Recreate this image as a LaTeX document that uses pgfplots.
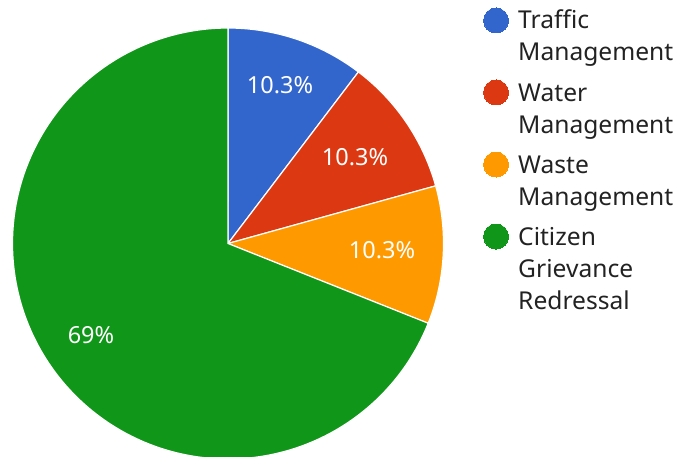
\documentclass[border=0pt]{standalone}
\usepackage{pgfplots}
\usepackage{pgfplotstable}
\usepackage{fontspec}
\setmainfont{Noto Sans}
\pgfplotsset{compat=1.18}
\definecolor{cA}{HTML}{3366CC}
\definecolor{cB}{HTML}{DC3912}
\definecolor{cC}{HTML}{FF9900}
\definecolor{cD}{HTML}{109618}
\definecolor{txt}{HTML}{222222}
\pgfplotstableread{
label value
Traffic 3
Water 3
Waste 3
Citizen 20
}\piedata
\pgfplotstablegetelem{0}{value}\of\piedata\let\vA\pgfplotsretval
\pgfplotstablegetelem{1}{value}\of\piedata\let\vB\pgfplotsretval
\pgfplotstablegetelem{2}{value}\of\piedata\let\vC\pgfplotsretval
\pgfplotstablegetelem{3}{value}\of\piedata\let\vD\pgfplotsretval
\pgfmathsetmacro\tot{\vA+\vB+\vC+\vD}
\pgfmathsetmacro\aA{360*\vA/\tot}
\pgfmathsetmacro\aB{360*(\vA+\vB)/\tot}
\pgfmathsetmacro\aC{360*(\vA+\vB+\vC)/\tot}
\def\pcx{228}\def\pcy{243.5}\def\prad{215.5}
\begin{document}%
\begin{tikzpicture}
\begin{axis}[
  width=675bp, height=457bp, scale only axis,
  xmin=0, xmax=675, ymin=0, ymax=457, y dir=reverse,
  hide axis, clip=true,
]
\coordinate (bbA) at (axis cs:0,457);
\coordinate (bbB) at (axis cs:675,0);
\addplot[fill=cA, draw=white, line width=1.2pt, domain=0:\aA, samples=60, variable=\t]
  ({\pcx+\prad*sin(\t)},{\pcy-\prad*cos(\t)}) -- (axis cs:\pcx,\pcy) -- cycle;
\addplot[fill=cB, draw=white, line width=1.2pt, domain=\aA:\aB, samples=60, variable=\t]
  ({\pcx+\prad*sin(\t)},{\pcy-\prad*cos(\t)}) -- (axis cs:\pcx,\pcy) -- cycle;
\addplot[fill=cC, draw=white, line width=1.2pt, domain=\aB:\aC, samples=60, variable=\t]
  ({\pcx+\prad*sin(\t)},{\pcy-\prad*cos(\t)}) -- (axis cs:\pcx,\pcy) -- cycle;
\addplot[fill=cD, draw=white, line width=1.2pt, domain=\aC:360, samples=200, variable=\t]
  ({\pcx+\prad*sin(\t)},{\pcy-\prad*cos(\t)}) -- (axis cs:\pcx,\pcy) -- cycle;
% slice labels
\begin{scope}[every node/.style={text=white, font=\fontsize{23.5bp}{28bp}\selectfont, inner sep=0pt}]
\node at (axis cs:280,85) {10.3\%};
\node at (axis cs:355,157) {10.3\%};
\node at (axis cs:382,250) {10.3\%};
\node at (axis cs:91,335) {69\%};
\end{scope}
% legend markers
\addplot[cA, only marks, mark=*, mark size=12.5bp, mark options={fill=cA, draw=cA, line width=0pt}] coordinates {(496,20.5)};
\addplot[cB, only marks, mark=*, mark size=12.5bp, mark options={fill=cB, draw=cB, line width=0pt}] coordinates {(496,92.5)};
\addplot[cC, only marks, mark=*, mark size=12.5bp, mark options={fill=cC, draw=cC, line width=0pt}] coordinates {(496,164.5)};
\addplot[cD, only marks, mark=*, mark size=12.5bp, mark options={fill=cD, draw=cD, line width=0pt}] coordinates {(496,236.5)};
\begin{scope}[every node/.style={text=txt, anchor=base west, font=\fontsize{24.6bp}{28bp}\selectfont, inner sep=0pt}]
\node at (axis cs:518,29) {Traffic};
\node at (axis cs:518,61) {Management};
\node at (axis cs:518,101) {Water};
\node at (axis cs:518,133) {Management};
\node at (axis cs:518,173) {Waste};
\node at (axis cs:518,205) {Management};
\node at (axis cs:518,245) {Citizen};
\node at (axis cs:518,277) {Grievance};
\node at (axis cs:518,309) {Redressal};
\end{scope}
\end{axis}
\pgfresetboundingbox
\path[use as bounding box] (bbA) rectangle (bbB);
\end{tikzpicture}%
\end{document}
